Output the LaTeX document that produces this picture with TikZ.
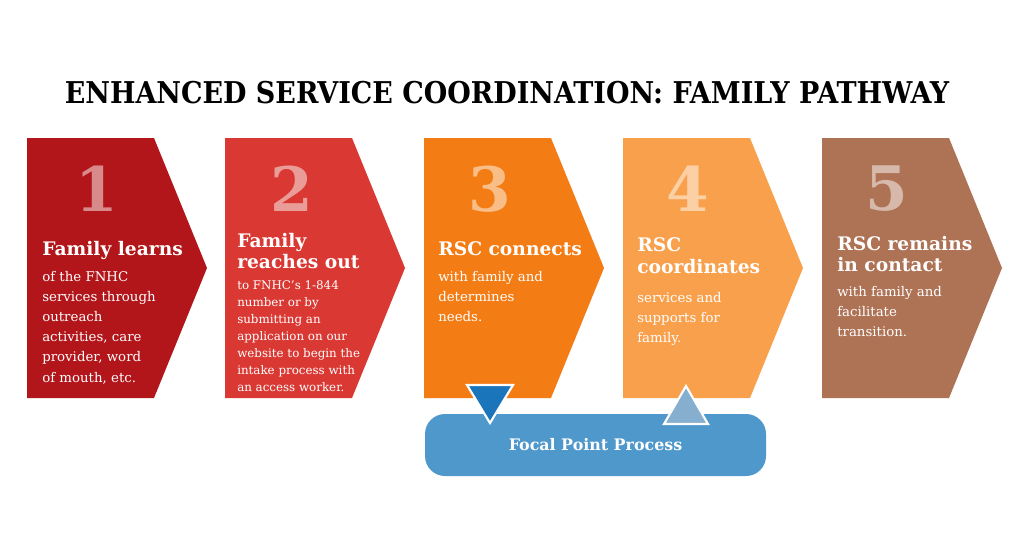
\documentclass[tikz,border=0pt]{standalone}
\usepackage{fontspec}
\setmainfont{DejaVu Serif}
\newfontfamily\titlefont{DejaVu Serif Condensed}
\definecolor{cA}{HTML}{B3161A}\definecolor{nA}{HTML}{D8898A}
\definecolor{cB}{HTML}{DA3833}\definecolor{nB}{HTML}{EA9D98}
\definecolor{cC}{HTML}{F47C14}\definecolor{nC}{HTML}{F9BE88}
\definecolor{cD}{HTML}{F9A04C}\definecolor{nD}{HTML}{FCD0A5}
\definecolor{cE}{HTML}{AE7255}\definecolor{nE}{HTML}{D7B9AB}
\definecolor{boxblue}{HTML}{4F98CB}
\definecolor{darkblue}{HTML}{1B75BA}
\definecolor{lightblue}{HTML}{86AFCF}
\tikzset{
  numtxt/.style={font=\bfseries\fontsize{46}{50}\selectfont, inner sep=0pt},
  headtxt/.style={font=\bfseries\fontsize{14}{17}\selectfont, text=white, inner sep=0pt, anchor=base west},
  bodytxt/.style={font=\fontsize{10}{12}\selectfont, text=white, inner sep=0pt, anchor=base west},
  smallbody/.style={font=\fontsize{8.9}{11}\selectfont, text=white, inner sep=0pt, anchor=base west},
  focal/.style={fill=boxblue, draw=none, rounded corners=15pt, minimum width=255.75pt, minimum height=46.5pt, text=white, font=\bfseries\fontsize{11.9}{14}\selectfont},
  tri/.style={draw=white, line width=1.6pt, line join=miter}
}
\newcommand{\chev}[2]{\fill[#2] (#1,138) -- (#1+127,138) -- (#1+180,268) -- (#1+127,398) -- (#1,398) -- cycle;}
\begin{document}
\begin{tikzpicture}[x=0.75pt,y=-0.75pt]
\useasboundingbox (0,0) rectangle (1024,551);
\fill[white] (0,0) rectangle (1024,551);
\node[font=\titlefont\bfseries\fontsize{22.5}{27}\selectfont, inner sep=0pt] (title) at (507,93) {ENHANCED SERVICE COORDINATION: FAMILY PATHWAY};
% chevrons
\chev{27}{cA}
\chev{225}{cB}
\chev{424}{cC}
\chev{623}{cD}
\chev{822}{cE}
% numbers
\node[numtxt, text=nA] (n1) at (97,189) {1};
\node[numtxt, text=nB] (n2) at (292,189) {2};
\node[numtxt, text=nC] (n3) at (490,189) {3};
\node[numtxt, text=nD] (n4) at (688,189) {4};
\node[numtxt, text=nE] (n5) at (887,189) {5};
% step 1
\node[headtxt] (h1) at (42,255) {Family learns};
\foreach \t [count=\k from 0] in {of the FNHC, services through, outreach, {activities, care}, {provider, word}, {of mouth, etc.}}
  \node[bodytxt] (b1-\k) at (42,281+20.2*\k) {\t};
% step 2
\node[headtxt] (h2a) at (237,247) {Family};
\node[headtxt] (h2b) at (237,268) {reaches out};
\foreach \t [count=\k from 0] in {to FNHC’s 1-844, number or by, submitting an, application on our, website to begin the, intake process with, an access worker.}
  \node[smallbody] (b2-\k) at (237,289+17*\k) {\t};
% step 3
\node[headtxt] (h3) at (438,255) {RSC connects};
\foreach \t [count=\k from 0] in {with family and, determines, needs.}
  \node[bodytxt] (b3-\k) at (438,281+20*\k) {\t};
% step 4
\node[headtxt] (h4a) at (637,251) {RSC};
\node[headtxt] (h4b) at (637,273) {coordinates};
\foreach \t [count=\k from 0] in {services and, supports for, family.}
  \node[bodytxt] (b4-\k) at (637,302+20*\k) {\t};
% step 5
\node[headtxt] (h5a) at (837,250) {RSC remains};
\node[headtxt] (h5b) at (837,271) {in contact};
\foreach \t [count=\k from 0] in {with family and, facilitate, transition.}
  \node[bodytxt] (b5-\k) at (837,296+20*\k) {\t};
% focal point box
\node[focal] (fp) at (595.5,445) {Focal Point Process};
% triangles
\coordinate (dtA) at (467,385);
\coordinate (dtB) at (513,385);
\coordinate (dtC) at (490,423);
\filldraw[tri, fill=darkblue] (dtA) -- (dtB) -- (dtC) -- cycle;
\coordinate (utA) at (664,424);
\coordinate (utB) at (708,424);
\coordinate (utC) at (686,386);
\filldraw[tri, fill=lightblue] (utA) -- (utB) -- (utC) -- cycle;
\end{tikzpicture}
\end{document}
